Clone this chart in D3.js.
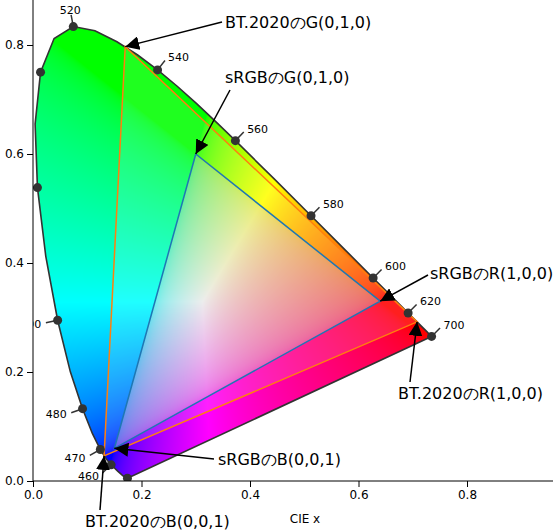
<!DOCTYPE html>
<html><head><meta charset="utf-8">
<script src="https://cdn.jsdelivr.net/npm/d3@7"></script>
<style>body{margin:0;background:#fff}text{font-family:"DejaVu Sans",sans-serif}</style>
</head><body>
<script>
// CIE 1931 spectral locus (approximate, read off the chart / standard table)
var nm   = [380,400,420,440,450,460,465,470,475,480,485,490,495,500,505,510,515,520,525,530,535,540,545,550,555,560,570,580,590,600,610,620,630,640,650,680,700];
var locX = [0.1741,0.1733,0.1714,0.1644,0.1566,0.1440,0.1355,0.1241,0.1096,0.0913,0.0687,0.0454,0.0235,0.0082,0.0039,0.0139,0.0389,0.0743,0.1142,0.1547,0.1929,0.2296,0.2658,0.3016,0.3373,0.3731,0.4441,0.5125,0.5752,0.6270,0.6658,0.6915,0.7079,0.7190,0.7260,0.7320,0.7347];
var locY = [0.0050,0.0048,0.0051,0.0109,0.0177,0.0297,0.0399,0.0578,0.0868,0.1327,0.2007,0.2950,0.4127,0.5384,0.6548,0.7502,0.8120,0.8338,0.8262,0.8059,0.7816,0.7543,0.7243,0.6923,0.6589,0.6245,0.5547,0.4866,0.4242,0.3725,0.3340,0.3083,0.2920,0.2809,0.2740,0.2680,0.2653];
var markNm = [380,460,470,480,490,500,510,520,540,560,580,600,620,700];
var labelNm = [460,470,480,490,520,540,560,580,600,620,700];
var srgbX = [0.64,0.30,0.15], srgbY = [0.33,0.60,0.06];
var bt2020X = [0.708,0.170,0.131], bt2020Y = [0.292,0.797,0.046];
var ticks = [0,0.2,0.4,0.6,0.8];
var notes = [
  {text:"BT.2020のG(0,1,0)", px:0.170, py:0.797, tx:225, ty:28, ax:222, ay:22},
  {text:"sRGBのG(0,1,0)",    px:0.30,  py:0.60,  tx:225, ty:83, ax:230, ay:90},
  {text:"sRGBのR(1,0,0)",    px:0.64,  py:0.33,  tx:430, ty:279, ax:428, ay:275},
  {text:"BT.2020のR(1,0,0)", px:0.708, py:0.292, tx:398, ty:399, ax:410, ay:382},
  {text:"sRGBのB(0,0,1)",    px:0.15,  py:0.06,  tx:218, ty:465, ax:214, ay:459},
  {text:"BT.2020のB(0,0,1)", px:0.131, py:0.046, tx:85,  ty:527, ax:100, ay:510}
];

var W = 553, H = 531;
var x = d3.scaleLinear().domain([0,1]).range([33, 33+542.5]);
var y = d3.scaleLinear().domain([0,1]).range([481, 481-545]);
var x1 = x.invert(553), y1 = y.invert(0);

var svg = d3.select("body").append("svg").attr("width",W).attr("height",H);
var defs = svg.append("defs");
defs.append("clipPath").attr("id","plot").append("rect")
  .attr("x",33).attr("y",0).attr("width",520).attr("height",481);
var pts = nm.map(function(d,i){return [x(locX[i]), y(locY[i])];});
defs.append("clipPath").attr("id","locus").append("path")
  .attr("d","M"+pts.join("L")+"Z");
var mk = defs.append("marker").attr("id","arr").attr("viewBox","0 0 10 10")
  .attr("refX",10).attr("refY",5).attr("markerWidth",14).attr("markerHeight",14)
  .attr("markerUnits","userSpaceOnUse").attr("orient","auto");
mk.append("path").attr("d","M0,0L10,5L0,10Z").attr("fill","#000");

// colour fill computed per pixel: xy -> XYZ -> linear sRGB, normalised
var cw = 520, ch = 481;
var cv = document.createElement("canvas"); cv.width = cw; cv.height = ch;
var ctx = cv.getContext("2d"), img = ctx.createImageData(cw, ch);
function gam(v){ return v <= 0.0031308 ? 12.92*v : 1.055*Math.pow(v,1/2.4)-0.055; }
for (var j = 0; j < ch; j++) for (var i = 0; i < cw; i++) {
  var cx = x.invert(33+i+0.5), cy = Math.max(y.invert(j+0.5), 0.001);
  var X = cx/cy, Y = 1, Z = (1-cx-cy)/cy;
  var r = Math.max(0, 3.2406*X-1.5372*Y-0.4986*Z),
      g = Math.max(0,-0.9689*X+1.8758*Y+0.0415*Z),
      b = Math.max(0, 0.0557*X-0.2040*Y+1.0570*Z);
  var m = Math.max(r,g,b) || 1, k = (j*cw+i)*4;
  img.data[k] = 255*gam(r/m); img.data[k+1] = 255*gam(g/m); img.data[k+2] = 255*gam(b/m); img.data[k+3] = 255;
}
ctx.putImageData(img,0,0);

var plot = svg.append("g").attr("clip-path","url(#plot)");
plot.append("g").attr("clip-path","url(#locus)").append("image")
  .attr("x",33).attr("y",0).attr("width",cw).attr("height",ch)
  .attr("href", cv.toDataURL());

var line = d3.line().x(function(d){return x(d[0]);}).y(function(d){return y(d[1]);});
function tri(xs, ys){ return line(xs.map(function(d,i){return [d, ys[i]];})) + "Z"; }
plot.append("path").attr("d",tri(bt2020X,bt2020Y)).attr("fill","#fff").attr("fill-opacity",0.12);
plot.append("path").attr("d",tri(srgbX,srgbY)).attr("fill","#ccc").attr("fill-opacity",0.35);

plot.append("path").attr("d","M"+pts.join("L")+"Z").attr("fill","none")
  .attr("stroke","#333").attr("stroke-width",1.6);
plot.append("path").attr("d",tri(bt2020X,bt2020Y)).attr("fill","none").attr("stroke","#ff7f0e").attr("stroke-width",1.5);
plot.append("path").attr("d",tri(srgbX,srgbY)).attr("fill","none").attr("stroke","#1f77b4").attr("stroke-width",1.5);

// wavelength markers with outward ticks
var cen = [0.33,0.33];
markNm.forEach(function(w){
  var i = nm.indexOf(w), px = locX[i], py = locY[i];
  var a = nm[Math.max(i-1,0)], bI = Math.min(i+1,nm.length-1);
  var tx = locX[bI]-locX[Math.max(i-1,0)], ty = locY[bI]-locY[Math.max(i-1,0)];
  var nx = ty, ny = -tx, L = Math.hypot(nx,ny) || 1; nx/=L; ny/=L;
  if ((px-cen[0])*nx + (py-cen[1])*ny < 0) { nx=-nx; ny=-ny; }
  if (w === 380) { nx = 0; ny = -1; }
  var sx = x(px), sy = y(py), dx = nx*12, dy = -ny*12;
  if (labelNm.indexOf(w) >= 0)
    plot.append("line").attr("x1",sx).attr("y1",sy).attr("x2",sx+dx).attr("y2",sy+dy)
      .attr("stroke","#333").attr("stroke-width",1.5);
  plot.append("circle").attr("cx",sx).attr("cy",sy).attr("r",4.5).attr("fill","#333");
  if (labelNm.indexOf(w) >= 0)
    plot.append("text").attr("x",sx+dx*1.4).attr("y",sy+dy*1.4+4)
      .attr("text-anchor", nx > 0.3 ? "start" : (nx < -0.3 ? "end" : "middle"))
      .attr("font-size",11).text(w);
});

// axes
svg.append("g").attr("transform","translate(0,481)")
  .call(d3.axisBottom(x).tickValues(ticks).tickFormat(d3.format(".1f")).tickSizeOuter(0))
  .call(function(g){g.select(".domain").attr("d","M33,0H553"); g.selectAll("text").attr("font-size",12);});
svg.append("g").attr("transform","translate(33,0)")
  .call(d3.axisLeft(y).tickValues(ticks).tickFormat(d3.format(".1f")).tickSizeOuter(0))
  .call(function(g){g.select(".domain").attr("d","M0,0V481"); g.selectAll("text").attr("font-size",12);});
svg.append("text").attr("x",305).attr("y",523).attr("text-anchor","middle").attr("font-size",12).text("CIE x");

// annotations
notes.forEach(function(n){
  svg.append("line").attr("x1",n.ax).attr("y1",n.ay).attr("x2",x(n.px)).attr("y2",y(n.py))
    .attr("stroke","#000").attr("stroke-width",1.5).attr("marker-end","url(#arr)");
  svg.append("text").attr("x",n.tx).attr("y",n.ty).attr("font-size",16).text(n.text);
});
</script>
</body></html>
